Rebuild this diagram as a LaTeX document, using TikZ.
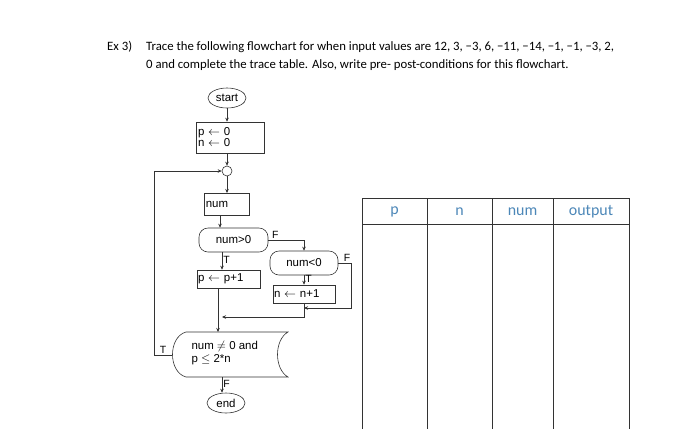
\documentclass[tikz,border=0pt]{standalone}
\usepackage{fontspec}
\setmainfont{Carlito}
\newfontfamily\fcfont{Liberation Sans}
\usetikzlibrary{arrows.meta,shapes.geometric}
\begin{document}
\begin{tikzpicture}[x=1bp,y=-1bp,
  ln/.style={draw=black!80,line width=0.6pt},
  ar/.style={ln,-{Stealth[length=4pt,width=3.5pt]}},
  term/.style={ellipse,ln,minimum width=38bp,minimum height=20bp,inner sep=0pt,font=\fcfont\fontsize{11.5}{13}\selectfont},
  bx/.style={rectangle,ln,inner sep=0pt,font=\fcfont\fontsize{11.5}{13}\selectfont},
  rnd/.style={rectangle,rounded corners=9bp,ln,inner sep=0pt,font=\fcfont\fontsize{11.5}{13}\selectfont},
  lb/.style={font=\fcfont\fontsize{10.5}{11}\selectfont,inner sep=1pt},
  hd/.style={font=\fontsize{16}{18}\selectfont,text=blue!45!cyan!60!black!70}]
\useasboundingbox (0,0) rectangle (700,429);
\fill[white] (0,0) rectangle (700,429);
% text
\node[anchor=base west,inner sep=0pt,font=\fontsize{12.8}{14}\selectfont] (ex) at (107,50) {Ex 3)};
\node[anchor=base west,inner sep=0pt,font=\fontsize{12.8}{14}\selectfont] (l1) at (146,50) {Trace the following flowchart for when input values are 12, 3, −3, 6, −11, −14, −1, −1, −3, 2,};
\node[anchor=base west,inner sep=0pt,font=\fontsize{12.8}{14}\selectfont] (l2) at (146,68) {0 and complete the trace table. Also, write pre- post-conditions for this flowchart.};
% flowchart
\node[term] (start) at (227,98) {start};
\node[bx,minimum width=68bp,minimum height=31bp,align=left,text width=64bp] (init) at (230,137.5) {p $\leftarrow$ 0\\[-2pt]n $\leftarrow$ 0};
\node[circle,ln,minimum size=10bp,inner sep=0pt] (jn) at (227,171) {};
\node[bx,minimum width=45bp,minimum height=22bp,text width=42bp,align=left,anchor=north west] (num) at (204,193) {num\\[-4pt]};
\node[rnd,minimum width=69bp,minimum height=24bp] (d1) at (233.5,240) {num>0};
\node[bx,minimum width=63bp,minimum height=18bp,text width=61bp,align=left] (pinc) at (228.5,279) {p $\leftarrow$ p+1};
\node[rnd,minimum width=68bp,minimum height=24bp] (d2) at (304,263) {num<0};
\node[bx,minimum width=62bp,minimum height=18bp,text width=60bp,align=left] (ninc) at (304,294) {n $\leftarrow$ n+1};
\coordinate (m1) at (304,308);
\coordinate (m2) at (222,317);
\node[minimum width=116bp,minimum height=45bp,inner sep=0pt] (d3) at (230,354.5) {};
\draw[ln] (186,332) -- (288,332) .. controls (274,340) and (274,369) .. (288,377) -- (186,377) .. controls (168,372) and (168,337) .. (186,332) -- cycle;
\node[font=\fcfont\fontsize{11.5}{13}\selectfont,align=left,anchor=west] (d3t) at (188,353) {num $\neq$ 0 and\\p $\leq$ 2*n};
\node[term] (end) at (226,403) {end};
% connectors
\draw[ar] (start) -- (init.north -| start);
\draw[ar] (init.south -| start) -- (jn);
\draw[ar] (jn) -- (num.north -| jn);
\draw[ar] (num.south -| 220,0) -- (d1.north -| 220,0);
\draw[ar] (d1.south -| 222,0) -- node[lb,right,pos=0.45]{T} (pinc.north -| 222,0);
\draw[ar] (d1.east) -| node[lb,above,pos=0.1]{F} (d2.north);
\draw[ar] (d2.south) -- node[lb,right,pos=0.4]{T} (ninc.north);
\draw[ar] (d2.east) -- node[lb,above,pos=0.7]{F} (351,263) -- (351,308) -- (m1);
\draw[ln] (ninc.south) -- (m1);
\draw[ar] (m1) -- (304,317) -- (m2);
\draw[ln] (pinc.south -| 218,0) -- (218,317);
\draw[ar] (218,317) -- (218,332);
\draw[ar] (d3.south -| 222,0) -- node[lb,right,pos=0.4]{F} (end.north -| 222,0);
\draw[ar] (172,355) -- node[lb,above,pos=0.5]{T} (154,355) -- (154,171) -- (jn.west);
% table
\draw[ln,line width=0.7pt] (362,198) -- (629,198);
\draw[ln,line width=0.7pt] (362,224) -- (629,224);
\foreach \xx in {362,427,492,553,629} \draw[ln] (\xx,198) -- (\xx,429);
\node[hd] (hp) at (394.5,212) {p};
\node[hd] (hn) at (459.5,212) {n};
\node[hd] (hnum) at (522.5,212) {num};
\node[hd] (hout) at (591,212) {output};
\end{tikzpicture}
\end{document}
